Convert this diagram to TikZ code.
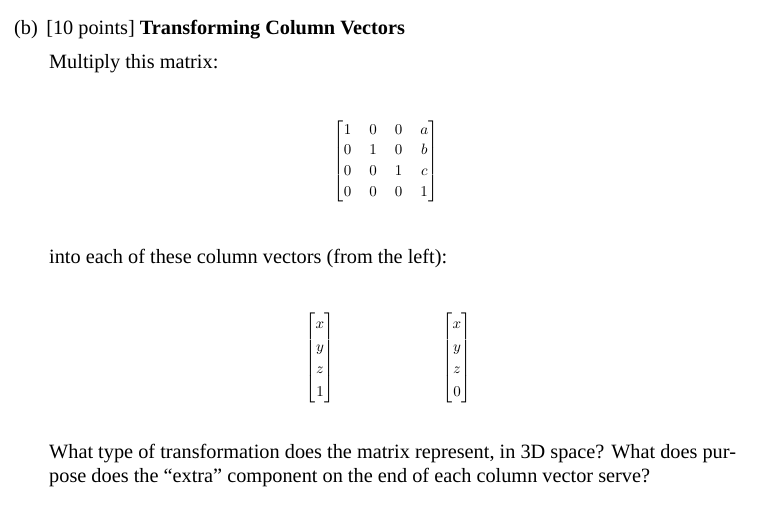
\documentclass[tikz,border=0pt]{standalone}
\usepackage{amsmath}
\usepackage{fontspec}
\setmainfont{Liberation Serif}
\begin{document}
\begin{tikzpicture}[x=1pt,y=-1pt,
  txt/.style={anchor=base west,inner sep=0pt,font=\fontsize{20.3}{24}\selectfont},
  mat/.style={inner sep=0pt,scale=1.5,transform shape}]
\useasboundingbox (0,0) rectangle (758,517);
\node[txt] (title) at (14,34) {(b)\, [10 points] \textbf{Transforming Column Vectors}};
\node[txt] (mult) at (49,68) {Multiply this matrix:};
\node[mat] (M) at (386,161) {$\renewcommand{\arraystretch}{1.15}\setlength{\arraycolsep}{6pt}\begin{bmatrix}1&0&0&a\\0&1&0&b\\0&0&1&c\\0&0&0&1\end{bmatrix}$};
\node[txt] (into) at (49,263) {into each of these column vectors (from the left):};
\node[mat] (v1) at (320,358) {$\renewcommand{\arraystretch}{1.25}\begin{bmatrix}x\\y\\z\\1\end{bmatrix}$};
\node[mat] (v2) at (457,358) {$\renewcommand{\arraystretch}{1.25}\begin{bmatrix}x\\y\\z\\0\end{bmatrix}$};
\node[txt] (q1) at (49,458) {What type of transformation does the matrix represent, in 3D space? What does pur-};
\node[txt] (q2) at (49,482) {pose does the ``extra'' component on the end of each column vector serve?};
\end{tikzpicture}
\end{document}
